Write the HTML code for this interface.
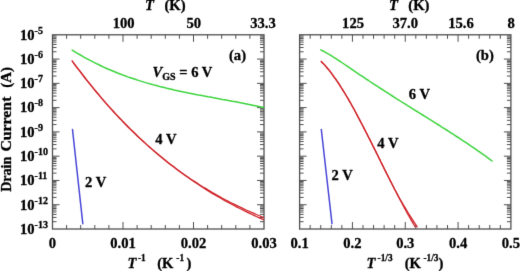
<!DOCTYPE html>
<html><head><meta charset="utf-8"><style>
html,body{margin:0;padding:0;background:#fff;width:520px;height:271px;overflow:hidden}
svg{display:block}
text{stroke:#000;stroke-width:.3px;stroke-linejoin:round}
</style></head><body>
<svg width="520" height="271" viewBox="0 0 520 271" font-family="Liberation Serif, serif" font-weight="bold">
<defs><filter id="soft" x="0" y="0" width="520" height="271" filterUnits="userSpaceOnUse" color-interpolation-filters="sRGB"><feConvolveMatrix order="3" kernelMatrix="0 1 0 1 8 1 0 1 0" divisor="12" edgeMode="duplicate"/></filter></defs>
<g filter="url(#soft)">
<rect x="0" y="0" width="520" height="271" fill="#fff" stroke="none"/>
<rect x="52.5" y="34.8" width="211.5" height="194.2" fill="none" stroke="#505050" stroke-width="1.3"/>
<rect x="299.6" y="34.8" width="211.29999999999995" height="194.2" fill="none" stroke="#505050" stroke-width="1.3"/>
<path d="M123.00 229.00v-7M123.00 34.80v7M193.50 229.00v-7M193.50 34.80v7M66.60 229.00v-4M66.60 34.80v4M80.70 229.00v-4M80.70 34.80v4M94.80 229.00v-4M94.80 34.80v4M108.90 229.00v-4M108.90 34.80v4M137.10 229.00v-4M137.10 34.80v4M151.20 229.00v-4M151.20 34.80v4M165.30 229.00v-4M165.30 34.80v4M179.40 229.00v-4M179.40 34.80v4M207.60 229.00v-4M207.60 34.80v4M221.70 229.00v-4M221.70 34.80v4M235.80 229.00v-4M235.80 34.80v4M249.90 229.00v-4M249.90 34.80v4M52.50 221.69h4M264.00 221.69h-4M52.50 217.42h4M264.00 217.42h-4M52.50 214.38h4M264.00 214.38h-4M52.50 212.03h4M264.00 212.03h-4M52.50 210.11h4M264.00 210.11h-4M52.50 208.49h4M264.00 208.49h-4M52.50 207.08h4M264.00 207.08h-4M52.50 205.84h4M264.00 205.84h-4M52.50 204.72h7M264.00 204.72h-7M52.50 197.42h4M264.00 197.42h-4M52.50 193.14h4M264.00 193.14h-4M52.50 190.11h4M264.00 190.11h-4M52.50 187.76h4M264.00 187.76h-4M52.50 185.84h4M264.00 185.84h-4M52.50 184.21h4M264.00 184.21h-4M52.50 182.80h4M264.00 182.80h-4M52.50 181.56h4M264.00 181.56h-4M52.50 180.45h7M264.00 180.45h-7M52.50 173.14h4M264.00 173.14h-4M52.50 168.87h4M264.00 168.87h-4M52.50 165.83h4M264.00 165.83h-4M52.50 163.48h4M264.00 163.48h-4M52.50 161.56h4M264.00 161.56h-4M52.50 159.94h4M264.00 159.94h-4M52.50 158.53h4M264.00 158.53h-4M52.50 157.29h4M264.00 157.29h-4M52.50 156.18h7M264.00 156.18h-7M52.50 148.87h4M264.00 148.87h-4M52.50 144.59h4M264.00 144.59h-4M52.50 141.56h4M264.00 141.56h-4M52.50 139.21h4M264.00 139.21h-4M52.50 137.29h4M264.00 137.29h-4M52.50 135.66h4M264.00 135.66h-4M52.50 134.25h4M264.00 134.25h-4M52.50 133.01h4M264.00 133.01h-4M52.50 131.90h7M264.00 131.90h-7M52.50 124.59h4M264.00 124.59h-4M52.50 120.32h4M264.00 120.32h-4M52.50 117.28h4M264.00 117.28h-4M52.50 114.93h4M264.00 114.93h-4M52.50 113.01h4M264.00 113.01h-4M52.50 111.39h4M264.00 111.39h-4M52.50 109.98h4M264.00 109.98h-4M52.50 108.74h4M264.00 108.74h-4M52.50 107.62h7M264.00 107.62h-7M52.50 100.32h4M264.00 100.32h-4M52.50 96.04h4M264.00 96.04h-4M52.50 93.01h4M264.00 93.01h-4M52.50 90.66h4M264.00 90.66h-4M52.50 88.74h4M264.00 88.74h-4M52.50 87.11h4M264.00 87.11h-4M52.50 85.70h4M264.00 85.70h-4M52.50 84.46h4M264.00 84.46h-4M52.50 83.35h7M264.00 83.35h-7M52.50 76.04h4M264.00 76.04h-4M52.50 71.77h4M264.00 71.77h-4M52.50 68.73h4M264.00 68.73h-4M52.50 66.38h4M264.00 66.38h-4M52.50 64.46h4M264.00 64.46h-4M52.50 62.84h4M264.00 62.84h-4M52.50 61.43h4M264.00 61.43h-4M52.50 60.19h4M264.00 60.19h-4M52.50 59.07h7M264.00 59.07h-7M52.50 51.77h4M264.00 51.77h-4M52.50 47.49h4M264.00 47.49h-4M52.50 44.46h4M264.00 44.46h-4M52.50 42.11h4M264.00 42.11h-4M52.50 40.19h4M264.00 40.19h-4M52.50 38.56h4M264.00 38.56h-4M52.50 37.15h4M264.00 37.15h-4M52.50 35.91h4M264.00 35.91h-4M352.43 229.00v-7M352.43 34.80v7M405.25 229.00v-7M405.25 34.80v7M458.07 229.00v-7M458.07 34.80v7M310.17 229.00v-4M310.17 34.80v4M320.73 229.00v-4M320.73 34.80v4M331.30 229.00v-4M331.30 34.80v4M341.86 229.00v-4M341.86 34.80v4M362.99 229.00v-4M362.99 34.80v4M373.56 229.00v-4M373.56 34.80v4M384.12 229.00v-4M384.12 34.80v4M394.69 229.00v-4M394.69 34.80v4M415.81 229.00v-4M415.81 34.80v4M426.38 229.00v-4M426.38 34.80v4M436.94 229.00v-4M436.94 34.80v4M447.51 229.00v-4M447.51 34.80v4M468.64 229.00v-4M468.64 34.80v4M479.21 229.00v-4M479.21 34.80v4M489.77 229.00v-4M489.77 34.80v4M500.33 229.00v-4M500.33 34.80v4M299.60 221.69h4M510.90 221.69h-4M299.60 217.42h4M510.90 217.42h-4M299.60 214.38h4M510.90 214.38h-4M299.60 212.03h4M510.90 212.03h-4M299.60 210.11h4M510.90 210.11h-4M299.60 208.49h4M510.90 208.49h-4M299.60 207.08h4M510.90 207.08h-4M299.60 205.84h4M510.90 205.84h-4M299.60 204.72h7M510.90 204.72h-7M299.60 197.42h4M510.90 197.42h-4M299.60 193.14h4M510.90 193.14h-4M299.60 190.11h4M510.90 190.11h-4M299.60 187.76h4M510.90 187.76h-4M299.60 185.84h4M510.90 185.84h-4M299.60 184.21h4M510.90 184.21h-4M299.60 182.80h4M510.90 182.80h-4M299.60 181.56h4M510.90 181.56h-4M299.60 180.45h7M510.90 180.45h-7M299.60 173.14h4M510.90 173.14h-4M299.60 168.87h4M510.90 168.87h-4M299.60 165.83h4M510.90 165.83h-4M299.60 163.48h4M510.90 163.48h-4M299.60 161.56h4M510.90 161.56h-4M299.60 159.94h4M510.90 159.94h-4M299.60 158.53h4M510.90 158.53h-4M299.60 157.29h4M510.90 157.29h-4M299.60 156.18h7M510.90 156.18h-7M299.60 148.87h4M510.90 148.87h-4M299.60 144.59h4M510.90 144.59h-4M299.60 141.56h4M510.90 141.56h-4M299.60 139.21h4M510.90 139.21h-4M299.60 137.29h4M510.90 137.29h-4M299.60 135.66h4M510.90 135.66h-4M299.60 134.25h4M510.90 134.25h-4M299.60 133.01h4M510.90 133.01h-4M299.60 131.90h7M510.90 131.90h-7M299.60 124.59h4M510.90 124.59h-4M299.60 120.32h4M510.90 120.32h-4M299.60 117.28h4M510.90 117.28h-4M299.60 114.93h4M510.90 114.93h-4M299.60 113.01h4M510.90 113.01h-4M299.60 111.39h4M510.90 111.39h-4M299.60 109.98h4M510.90 109.98h-4M299.60 108.74h4M510.90 108.74h-4M299.60 107.62h7M510.90 107.62h-7M299.60 100.32h4M510.90 100.32h-4M299.60 96.04h4M510.90 96.04h-4M299.60 93.01h4M510.90 93.01h-4M299.60 90.66h4M510.90 90.66h-4M299.60 88.74h4M510.90 88.74h-4M299.60 87.11h4M510.90 87.11h-4M299.60 85.70h4M510.90 85.70h-4M299.60 84.46h4M510.90 84.46h-4M299.60 83.35h7M510.90 83.35h-7M299.60 76.04h4M510.90 76.04h-4M299.60 71.77h4M510.90 71.77h-4M299.60 68.73h4M510.90 68.73h-4M299.60 66.38h4M510.90 66.38h-4M299.60 64.46h4M510.90 64.46h-4M299.60 62.84h4M510.90 62.84h-4M299.60 61.43h4M510.90 61.43h-4M299.60 60.19h4M510.90 60.19h-4M299.60 59.07h7M510.90 59.07h-7M299.60 51.77h4M510.90 51.77h-4M299.60 47.49h4M510.90 47.49h-4M299.60 44.46h4M510.90 44.46h-4M299.60 42.11h4M510.90 42.11h-4M299.60 40.19h4M510.90 40.19h-4M299.60 38.56h4M510.90 38.56h-4M299.60 37.15h4M510.90 37.15h-4M299.60 35.91h4M510.90 35.91h-4" stroke="#505050" stroke-width="1" fill="none"/>
<path d="M72.2 50.1 L74.6 51.6 L77.0 53.1 L79.5 54.5 L81.9 55.9 L84.3 57.3 L86.7 58.6 L89.2 59.9 L91.6 61.2 L94.0 62.4 L96.4 63.6 L98.9 64.8 L101.3 66.0 L103.7 67.1 L106.1 68.2 L108.5 69.3 L111.0 70.3 L113.4 71.3 L115.8 72.3 L118.2 73.3 L120.7 74.2 L123.1 75.1 L125.5 76.0 L127.9 76.9 L130.3 77.7 L132.8 78.5 L135.2 79.3 L137.6 80.1 L140.0 80.9 L142.5 81.6 L144.9 82.4 L147.3 83.1 L149.7 83.8 L152.2 84.4 L154.6 85.1 L157.0 85.7 L159.4 86.4 L161.8 87.0 L164.3 87.6 L166.7 88.2 L169.1 88.7 L171.5 89.3 L174.0 89.9 L176.4 90.4 L178.8 90.9 L181.2 91.4 L183.6 92.0 L186.1 92.5 L188.5 93.0 L190.9 93.4 L193.3 93.9 L195.8 94.4 L198.2 94.9 L200.6 95.3 L203.0 95.8 L205.5 96.2 L207.9 96.7 L210.3 97.1 L212.7 97.6 L215.1 98.0 L217.6 98.5 L220.0 98.9 L222.4 99.4 L224.8 99.8 L227.3 100.3 L229.7 100.7 L232.1 101.2 L234.5 101.6 L236.9 102.1 L239.4 102.6 L241.8 103.0 L244.2 103.5 L246.6 104.0 L249.1 104.5 L251.5 105.0 L253.9 105.5 L256.3 106.0 L258.8 106.5 L261.2 107.1 L263.6 107.6" stroke="#3dd43d" stroke-width="1.5" fill="none" stroke-linejoin="round" stroke-linecap="round"/>
<path d="M320.8 49.9 L323.0 51.0 L325.1 52.1 L327.3 53.3 L329.5 54.6 L331.6 55.9 L333.8 57.3 L336.0 58.7 L338.1 60.1 L340.3 61.5 L342.5 63.0 L344.7 64.5 L346.8 65.9 L349.0 67.4 L351.2 68.9 L353.3 70.4 L355.5 71.8 L357.7 73.3 L359.8 74.8 L362.0 76.2 L364.2 77.7 L366.3 79.1 L368.5 80.5 L370.7 82.0 L372.8 83.4 L375.0 84.8 L377.2 86.2 L379.3 87.6 L381.5 89.0 L383.7 90.4 L385.9 91.8 L388.0 93.2 L390.2 94.6 L392.4 96.0 L394.5 97.4 L396.7 98.8 L398.9 100.1 L401.0 101.5 L403.2 102.9 L405.4 104.2 L407.5 105.6 L409.7 106.9 L411.9 108.3 L414.0 109.6 L416.2 111.0 L418.4 112.3 L420.5 113.7 L422.7 115.0 L424.9 116.4 L427.0 117.7 L429.2 119.1 L431.4 120.4 L433.6 121.8 L435.7 123.2 L437.9 124.5 L440.1 125.9 L442.2 127.3 L444.4 128.6 L446.6 130.0 L448.7 131.4 L450.9 132.8 L453.1 134.2 L455.2 135.6 L457.4 137.0 L459.6 138.4 L461.7 139.9 L463.9 141.3 L466.1 142.7 L468.2 144.2 L470.4 145.7 L472.6 147.1 L474.8 148.6 L476.9 150.1 L479.1 151.6 L481.3 153.2 L483.4 154.7 L485.6 156.2 L487.8 157.8 L489.9 159.4 L492.1 161.0" stroke="#3dd43d" stroke-width="1.5" fill="none" stroke-linejoin="round" stroke-linecap="round"/>
<path d="M72.2 61.0 L74.6 64.3 L77.0 67.5 L79.5 70.7 L81.9 73.9 L84.3 77.0 L86.7 80.1 L89.2 83.2 L91.6 86.2 L94.0 89.1 L96.4 92.0 L98.9 94.9 L101.3 97.8 L103.7 100.6 L106.1 103.4 L108.5 106.1 L111.0 108.8 L113.4 111.5 L115.8 114.1 L118.2 116.7 L120.7 119.2 L123.1 121.8 L125.5 124.2 L127.9 126.7 L130.3 129.1 L132.8 131.5 L135.2 133.8 L137.6 136.2 L140.0 138.4 L142.5 140.7 L144.9 142.9 L147.3 145.1 L149.7 147.2 L152.2 149.4 L154.6 151.5 L157.0 153.5 L159.4 155.5 L161.8 157.5 L164.3 159.5 L166.7 161.5 L169.1 163.4 L171.5 165.2 L174.0 167.1 L176.4 168.9 L178.8 170.7 L181.2 172.5 L183.6 174.2 L186.1 175.9 L188.5 177.6 L190.9 179.2 L193.3 180.8 L195.8 182.4 L198.2 183.9 L200.6 185.5 L203.0 187.0 L205.5 188.4 L207.9 189.9 L210.3 191.3 L212.7 192.7 L215.1 194.1 L217.6 195.5 L220.0 196.8 L222.4 198.2 L224.8 199.5 L227.3 200.7 L229.7 202.0 L232.1 203.2 L234.5 204.4 L236.9 205.6 L239.4 206.8 L241.8 207.9 L244.2 209.1 L246.6 210.2 L249.1 211.3 L251.5 212.4 L253.9 213.4 L256.3 214.5 L258.8 215.5 L261.2 216.5 L263.6 217.5" stroke="#d02228" stroke-width="1.25" fill="none" stroke-linejoin="round" stroke-linecap="round"/>
<path d="M72.2 61.0 L74.6 64.3 L77.0 67.5 L79.5 70.7 L81.9 73.9 L84.3 77.0 L86.7 80.1 L89.2 83.2 L91.6 86.2 L94.0 89.1 L96.4 92.0 L98.9 94.9 L101.3 97.8 L103.7 100.6 L106.1 103.4 L108.5 106.1 L111.0 108.8 L113.4 111.5 L115.8 114.1 L118.2 116.7 L120.7 119.2 L123.1 121.8 L125.5 124.2 L127.9 126.7 L130.3 129.1 L132.8 131.5 L135.2 133.8 L137.6 136.2 L140.0 138.4 L142.5 140.7 L144.9 142.9 L147.3 145.1 L149.7 147.2 L152.2 149.4 L154.6 151.5 L157.0 153.5 L159.4 155.5 L161.8 157.5 L164.3 159.5 L166.7 161.5 L169.1 163.4 L171.5 165.2 L174.0 167.1 L176.4 168.9 L178.8 170.7 L181.2 172.5 L183.6 174.2 L186.1 176.0 L188.5 177.7 L190.9 179.4 L193.3 181.1 L195.8 182.7 L198.2 184.3 L200.6 185.9 L203.0 187.5 L205.5 189.1 L207.9 190.6 L210.3 192.1 L212.7 193.6 L215.1 195.0 L217.6 196.4 L220.0 197.8 L222.4 199.2 L224.8 200.6 L227.3 201.9 L229.7 203.2 L232.1 204.5 L234.5 205.8 L236.9 207.1 L239.4 208.3 L241.8 209.5 L244.2 210.7 L246.6 211.9 L249.1 213.1 L251.5 214.2 L253.9 215.4 L256.3 216.5 L258.8 217.6 L261.2 218.6 L263.6 219.7" stroke="#d02228" stroke-width="1.25" fill="none" stroke-linejoin="round" stroke-linecap="round"/>
<path d="M321.2 61.5 L322.4 62.7 L323.6 63.9 L324.8 65.2 L326.0 66.6 L327.2 68.0 L328.4 69.4 L329.6 70.9 L330.8 72.4 L332.0 74.0 L333.1 75.6 L334.3 77.3 L335.5 78.9 L336.7 80.7 L337.9 82.4 L339.1 84.2 L340.3 86.1 L341.5 88.0 L342.7 89.9 L343.9 91.8 L345.1 93.8 L346.3 95.8 L347.5 97.8 L348.7 99.9 L349.9 101.9 L351.1 104.0 L352.3 106.2 L353.5 108.3 L354.7 110.5 L355.9 112.7 L357.0 114.9 L358.2 117.2 L359.4 119.4 L360.6 121.7 L361.8 124.0 L363.0 126.3 L364.2 128.6 L365.4 131.0 L366.6 133.3 L367.8 135.7 L369.0 138.0 L370.2 140.4 L371.4 142.8 L372.6 145.2 L373.8 147.6 L375.0 150.0 L376.2 152.4 L377.4 154.8 L378.6 157.2 L379.8 159.6 L380.9 162.0 L382.1 164.4 L383.3 166.8 L384.5 169.2 L385.7 171.6 L386.9 174.0 L388.1 176.4 L389.3 178.8 L390.5 181.1 L391.7 183.5 L392.9 185.8 L394.1 188.2 L395.3 190.5 L396.5 192.8 L397.7 195.1 L398.8 197.3 L400.0 199.6 L401.2 201.8 L402.3 204.0 L403.5 206.2 L404.7 208.4 L405.8 210.5 L407.0 212.7 L408.1 214.8 L409.3 216.8 L410.5 218.9 L411.6 220.9 L412.8 222.9 L413.9 224.8 L415.1 226.8" stroke="#d02228" stroke-width="1.25" fill="none" stroke-linejoin="round" stroke-linecap="round"/>
<path d="M321.2 61.5 L322.4 62.7 L323.6 63.9 L324.8 65.2 L326.0 66.6 L327.2 68.0 L328.4 69.4 L329.6 70.9 L330.8 72.4 L332.0 74.0 L333.1 75.6 L334.3 77.3 L335.5 78.9 L336.7 80.7 L337.9 82.4 L339.1 84.2 L340.3 86.1 L341.5 88.0 L342.7 89.9 L343.9 91.8 L345.1 93.8 L346.3 95.8 L347.5 97.8 L348.7 99.9 L349.9 101.9 L351.1 104.0 L352.3 106.2 L353.5 108.3 L354.7 110.5 L355.9 112.7 L357.0 114.9 L358.2 117.2 L359.4 119.4 L360.6 121.7 L361.8 124.0 L363.0 126.3 L364.2 128.6 L365.4 131.0 L366.6 133.3 L367.8 135.7 L369.0 138.0 L370.2 140.4 L371.4 142.8 L372.6 145.2 L373.8 147.6 L375.0 150.0 L376.2 152.4 L377.4 154.8 L378.6 157.2 L379.8 159.6 L380.9 162.0 L382.1 164.4 L383.3 166.8 L384.5 169.2 L385.7 171.6 L386.9 174.0 L388.1 176.4 L389.3 178.8 L390.5 181.1 L391.7 183.5 L392.9 185.8 L394.1 188.2 L395.3 190.5 L396.5 192.8 L397.7 195.1 L398.9 197.3 L400.2 199.6 L401.6 201.8 L402.9 204.0 L404.2 206.2 L405.5 208.4 L406.8 210.5 L408.1 212.7 L409.4 214.8 L410.7 216.8 L412.0 218.9 L413.3 220.9 L414.6 222.9 L415.9 224.8 L417.2 226.8" stroke="#d02228" stroke-width="1.25" fill="none" stroke-linejoin="round" stroke-linecap="round"/>
<path d="M72.5 129.5 L82.8 223.7" stroke="#4846d6" stroke-width="1.5" fill="none" stroke-linejoin="round" stroke-linecap="round"/>
<path d="M321.3 129.5 L332.0 223.7" stroke="#4846d6" stroke-width="1.5" fill="none" stroke-linejoin="round" stroke-linecap="round"/>
<text x="20.0" y="39.599999999999994" font-size="14.6" text-anchor="start" >10<tspan font-size="10" dy="-6">-5</tspan></text>
<text x="20.0" y="63.87499999999999" font-size="14.6" text-anchor="start" >10<tspan font-size="10" dy="-6">-6</tspan></text>
<text x="20.0" y="88.14999999999999" font-size="14.6" text-anchor="start" >10<tspan font-size="10" dy="-6">-7</tspan></text>
<text x="20.0" y="112.42499999999998" font-size="14.6" text-anchor="start" >10<tspan font-size="10" dy="-6">-8</tspan></text>
<text x="20.0" y="136.7" font-size="14.6" text-anchor="start" >10<tspan font-size="10" dy="-6">-9</tspan></text>
<text x="20.0" y="160.97500000000002" font-size="14.6" text-anchor="start" >10<tspan font-size="10" dy="-6">-10</tspan></text>
<text x="20.0" y="185.25" font-size="14.6" text-anchor="start" >10<tspan font-size="10" dy="-6">-11</tspan></text>
<text x="20.0" y="209.52499999999998" font-size="14.6" text-anchor="start" >10<tspan font-size="10" dy="-6">-12</tspan></text>
<text x="20.0" y="233.8" font-size="14.6" text-anchor="start" >10<tspan font-size="10" dy="-6">-13</tspan></text>
<text x="52.5" y="247.8" font-size="14.6" text-anchor="middle" >0</text>
<text x="123.00000000000001" y="247.8" font-size="14.6" text-anchor="middle" >0.01</text>
<text x="193.50000000000003" y="247.8" font-size="14.6" text-anchor="middle" >0.02</text>
<text x="264.0" y="247.8" font-size="14.6" text-anchor="middle" >0.03</text>
<text x="299.6" y="247.8" font-size="14.6" text-anchor="middle" >0.1</text>
<text x="352.425" y="247.8" font-size="14.6" text-anchor="middle" >0.2</text>
<text x="405.25" y="247.8" font-size="14.6" text-anchor="middle" >0.3</text>
<text x="458.075" y="247.8" font-size="14.6" text-anchor="middle" >0.4</text>
<text x="510.9" y="247.8" font-size="14.6" text-anchor="middle" >0.5</text>
<text x="123.70000000000002" y="27.9" font-size="14.6" text-anchor="middle" >100</text>
<text x="193.80000000000004" y="27.9" font-size="14.6" text-anchor="middle" >50</text>
<text x="263.0" y="27.9" font-size="14.6" text-anchor="middle" >33.3</text>
<text x="353.02500000000003" y="27.6" font-size="14.6" text-anchor="middle" >125</text>
<text x="405.25" y="27.6" font-size="14.6" text-anchor="middle" >37.0</text>
<text x="460.97499999999997" y="27.6" font-size="14.6" text-anchor="middle" >15.6</text>
<text x="511.09999999999997" y="27.6" font-size="14.6" text-anchor="middle" >8</text>
<text x="145" y="10" font-size="14.6" text-anchor="start" ><tspan font-style="italic">T</tspan><tspan x="164.5">(K)</tspan></text>
<text x="389" y="10" font-size="14.6" text-anchor="start" ><tspan font-style="italic">T</tspan><tspan x="408.3">(K)</tspan></text>
<text x="127.4" y="268.0" font-size="14.6" text-anchor="start" font-style="italic">T</text>
<text x="137.9" y="261.2" font-size="9.3" text-anchor="start" >-1</text>
<text x="157.2" y="268.0" font-size="14.6" text-anchor="start" >(K</text>
<text x="176.3" y="261.2" font-size="9.3" text-anchor="start" >-1</text>
<text x="186.6" y="268.0" font-size="14.6" text-anchor="start" >)</text>
<text x="366.4" y="268.0" font-size="14.6" text-anchor="start" font-style="italic">T</text>
<text x="377.6" y="261.2" font-size="9.3" text-anchor="start" >-1/3</text>
<text x="404.7" y="268.0" font-size="14.6" text-anchor="start" >(K</text>
<text x="423.4" y="261.2" font-size="9.3" text-anchor="start" >-1/3</text>
<text x="438.4" y="268.0" font-size="14.6" text-anchor="start" >)</text>
<text transform="translate(10.5 191.8) rotate(-90)" font-size="14">Drain</text>
<text transform="translate(10.5 151.6) rotate(-90)" font-size="15" textLength="55" lengthAdjust="spacingAndGlyphs">Current</text>
<text transform="translate(10.5 87.8) rotate(-90)" font-size="15">(A)</text>
<text x="229" y="60" font-size="14.6" text-anchor="start" >(a)</text>
<text x="476" y="60" font-size="14.6" text-anchor="start" >(b)</text>
<text x="152.5" y="76.8" font-size="14.6" text-anchor="start" ><tspan font-style="italic">V</tspan><tspan font-size="10" dy="3.4">GS</tspan><tspan dy="-3.4"> = 6 V</tspan></text>
<text x="155.3" y="144.4" font-size="14.6" text-anchor="start" >4 V</text>
<text x="85" y="186.7" font-size="14.6" text-anchor="start" >2 V</text>
<text x="408.8" y="98.6" font-size="14.6" text-anchor="start" >6 V</text>
<text x="377.3" y="147.5" font-size="14.6" text-anchor="start" >4 V</text>
<text x="331.6" y="180" font-size="14.6" text-anchor="start" >2 V</text>
</g>
</svg>
</body></html>
